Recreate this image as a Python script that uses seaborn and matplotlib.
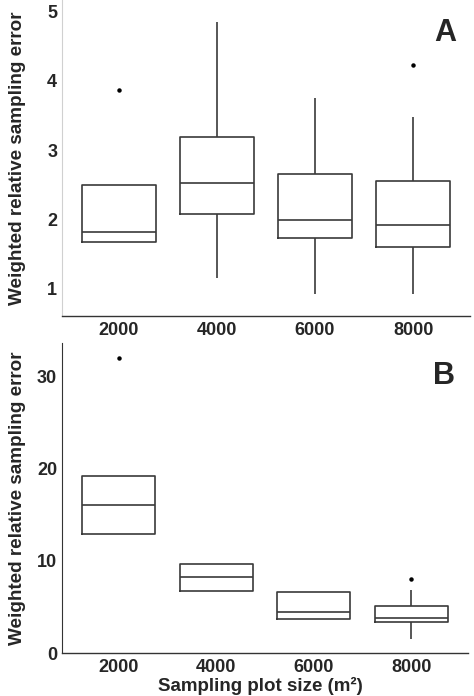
import pandas as pd
import matplotlib
matplotlib.use("Agg")
import matplotlib.pyplot as plt
import seaborn as sns

# plot sizes (m2) on the x axis
sizes = ["2000", "4000", "6000", "8000"]

# panel A: per-plot weighted relative sampling error
a_2000 = [1.67, 1.67, 1.67, 1.75, 1.82, 2.20, 2.49, 2.49, 3.86]
a_4000 = [1.16, 1.60, 2.08, 2.30, 2.52, 2.90, 3.19, 4.00, 4.84]
a_6000 = [0.92, 1.40, 1.73, 1.85, 1.99, 2.30, 2.65, 3.20, 3.75]
a_8000 = [0.93, 1.30, 1.61, 1.75, 1.92, 2.20, 2.56, 3.47, 4.23]

# panel B
b_2000 = [12.9, 12.9, 12.9, 14.5, 16.0, 17.5, 19.2, 19.2, 32.0]
b_4000 = [6.75, 6.75, 6.75, 7.5, 8.2, 9.0, 9.7, 9.7, 9.7]
b_6000 = [3.72, 3.72, 3.72, 4.0, 4.44, 5.5, 6.57, 6.57, 6.57]
b_8000 = [1.48, 2.5, 3.32, 3.5, 3.76, 4.4, 5.12, 6.82, 7.98]


def long_form(groups):
    rows = []
    for size, vals in zip(sizes, groups):
        for v in vals:
            rows.append({"size": size, "error": v})
    return pd.DataFrame(rows)


df_a = long_form([a_2000, a_4000, a_6000, a_8000])
df_b = long_form([b_2000, b_4000, b_6000, b_8000])

sns.set_style("white")
plt.rcParams["font.family"] = ["Liberation Sans", "DejaVu Sans"]
plt.rcParams["font.weight"] = "bold"

W, H = 474, 696
fig = plt.figure(figsize=(W / 100, H / 100), dpi=100)

# axes boxes in pixel coordinates (left, top, right, bottom)
ax_a = fig.add_axes([62 / W, 1 - 316 / H, (470 - 62) / W, 316 / H])
ax_b = fig.add_axes([62 / W, 1 - 653 / H, (468 - 62) / W, (653 - 343) / H])

line_col = "#3a3a3a"
box_kw = dict(x="size", y="error", order=sizes, fill=False, color=line_col,
              linewidth=1.2, width=0.75, showcaps=False,
              flierprops=dict(marker="o", markersize=2.2, markerfacecolor="black",
                              markeredgecolor="black"))

sns.boxplot(data=df_a, ax=ax_a, **box_kw)
sns.boxplot(data=df_b, ax=ax_b, **box_kw)

ax_a.set_xlim(-0.58, 3.58)
ax_a.set_ylim(0.61, 5.16)
ax_a.set_yticks([1, 2, 3, 4, 5])
ax_b.set_xlim(-0.58, 3.58)
ax_b.set_ylim(0, 33.6)
ax_b.set_yticks([0, 10, 20, 30])

for ax, letter, left_col, width_px in [(ax_a, "A", "#d0d0d0", 408),
                                       (ax_b, "B", "#333333", 406)]:
    ax.set_xlabel("")
    ax.set_ylabel("Weighted relative sampling error", fontsize=13.6,
                  fontweight="bold")
    ax.yaxis.set_label_coords((26 - 62) / width_px, 0.5)
    for s in ["top", "right"]:
        ax.spines[s].set_visible(False)
    ax.spines["bottom"].set_color("#333333")
    ax.spines["bottom"].set_linewidth(1.0)
    ax.spines["left"].set_color(left_col)
    ax.spines["left"].set_linewidth(0.8)
    ax.tick_params(axis="y", length=2.5, width=0.6, color="#999999",
                   labelsize=13, pad=1)
    ax.tick_params(axis="x", length=0, labelsize=13, pad=4)
    for lab in ax.get_xticklabels() + ax.get_yticklabels():
        lab.set_fontweight("bold")
    ax.text(0.94, 0.895, letter, transform=ax.transAxes, fontsize=22,
            fontweight="bold", ha="center", va="center")

fig.text(260 / W, 1 / H, "Sampling plot size (m²)", fontsize=13.5,
         fontweight="bold", ha="center", va="bottom")

fig.savefig("out.png", dpi=100)
